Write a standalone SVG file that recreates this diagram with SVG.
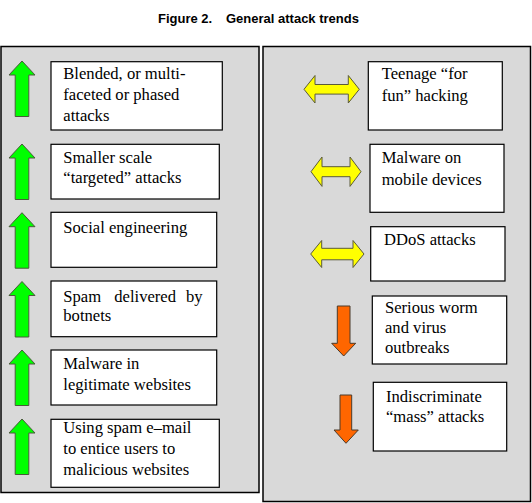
<svg xmlns="http://www.w3.org/2000/svg" width="532" height="503" viewBox="0 0 532 503">
<style>
.panel{fill:#d9d9d9;stroke:#000;stroke-width:1.5}
.box{fill:#fff;stroke:#000;stroke-width:1.2}
.t{font-family:'Liberation Serif','Times New Roman',serif;font-size:16.6px;fill:#000}
.title{font-family:'Liberation Sans',Arial,sans-serif;font-size:13px;font-weight:bold;fill:#000}
.up{fill:#00ff00;stroke:#4a5a3a;stroke-width:1}
.lr{fill:#ffff00;stroke:#5a5a3a;stroke-width:1}
.dn{fill:#ff6600;stroke:#4a3a2a;stroke-width:1}
</style>
<defs>
<path id="upA" d="M0,0 L13,14 L6.8,14 L6.8,55.5 L-6.8,55.5 L-6.8,14 L-13,14 Z"/>
</defs>
<rect width="532" height="503" fill="#fff"/>
<g id="title">
<text class="title" x="158" y="23">Figure 2.</text>
<text class="title" x="226" y="23">General attack trends</text>
</g>
<rect id="panel-left" class="panel" x="1" y="46.5" width="258" height="446"/>
<rect id="panel-right" class="panel" x="263" y="46.5" width="267.5" height="455"/>
<g id="connectors">
<use href="#upA" class="up" x="22" y="61"/>
<use href="#upA" class="up" x="22" y="144"/>
<use href="#upA" class="up" x="22" y="212.7"/>
<use href="#upA" class="up" x="22" y="281.5"/>
<use href="#upA" class="up" x="22" y="350"/>
<use href="#upA" class="up" x="22" y="419"/>
<path class="lr" d="M304,89.3 L315,75.5 L315,84.5 L348.3,84.5 L348.3,75.5 L359.3,89.3 L348.3,103 L348.3,94.1 L315,94.1 L315,103 Z"/>
<path class="lr" d="M311,171.7 L322,157 L322,166.7 L350,166.7 L350,157 L361,171.7 L350,186.4 L350,176.7 L322,176.7 L322,186.4 Z"/>
<path class="lr" d="M310.7,254 L321.7,240.5 L321.7,248.3 L353,248.3 L353,240.5 L364,254 L353,267.5 L353,259.8 L321.7,259.8 L321.7,267.5 Z"/>
<path class="dn" d="M337.3,306 L350,306 L350,343.3 L355.7,343.3 L343.7,356 L331.7,343.3 L337.3,343.3 Z"/>
<path class="dn" d="M340,395 L351.7,395 L351.7,430 L358.3,430 L346,443.3 L334,430 L340,430 Z"/>
</g>
<g id="node-l1">
<rect class="box" x="51" y="61.7" width="171.3" height="68.3"/>
<text class="t" x="63.3" y="79"><tspan x="63.3">Blended, or multi-</tspan><tspan x="63.3" y="99.8">faceted or phased</tspan><tspan x="63.3" y="120.5">attacks</tspan></text>
</g>
<g id="node-l2">
<rect class="box" x="51" y="144.3" width="168.3" height="54.7"/>
<text class="t" x="63.3" y="162.7"><tspan x="63.3">Smaller scale</tspan><tspan x="63.3" y="183.3">“targeted” attacks</tspan></text>
</g>
<g id="node-l3">
<rect class="box" x="51" y="212.3" width="165.7" height="55"/>
<text class="t" x="63.3" y="233">Social engineering</text>
</g>
<g id="node-l4">
<rect class="box" x="51" y="281" width="165.7" height="55.7"/>
<text class="t" y="302"><tspan x="63.3">Spam</tspan><tspan x="114.3">delivered</tspan><tspan x="186">by</tspan><tspan x="63.3" y="321">botnets</tspan></text>
</g>
<g id="node-l5">
<rect class="box" x="51" y="350" width="165.7" height="55"/>
<text class="t" x="63.3" y="369.3"><tspan x="63.3">Malware in</tspan><tspan x="63.3" y="390">legitimate websites</tspan></text>
</g>
<g id="node-l6">
<rect class="box" x="51" y="419.3" width="168.3" height="68"/>
<text class="t" x="63.3" y="432.5"><tspan x="63.3">Using spam e–mail</tspan><tspan x="63.3" y="453.5">to entice users to</tspan><tspan x="63.3" y="474.5">malicious websites</tspan></text>
</g>
<g id="node-r1">
<rect class="box" x="368.3" y="61.7" width="134" height="68.3"/>
<text class="t" x="381.7" y="79.3"><tspan x="381.7">Teenage “for</tspan><tspan x="381.7" y="101.3">fun” hacking</tspan></text>
</g>
<g id="node-r2">
<rect class="box" x="370" y="144.3" width="134" height="68"/>
<text class="t" x="381.7" y="163.3"><tspan x="381.7">Malware on</tspan><tspan x="381.7" y="185">mobile devices</tspan></text>
</g>
<g id="node-r3">
<rect class="box" x="370.7" y="226.7" width="134.3" height="54.3"/>
<text class="t" x="384" y="245">DDoS attacks</text>
</g>
<g id="node-r4">
<rect class="box" x="372.3" y="296" width="134.4" height="68"/>
<text class="t" x="385" y="313.3"><tspan x="385">Serious worm</tspan><tspan x="385" y="333.3">and virus</tspan><tspan x="385" y="353">outbreaks</tspan></text>
</g>
<g id="node-r5">
<rect class="box" x="373.3" y="382.3" width="133.4" height="68.7"/>
<text class="t" x="386" y="401.7"><tspan x="386">Indiscriminate</tspan><tspan x="386" y="421.7">“mass” attacks</tspan></text>
</g>
</svg>
